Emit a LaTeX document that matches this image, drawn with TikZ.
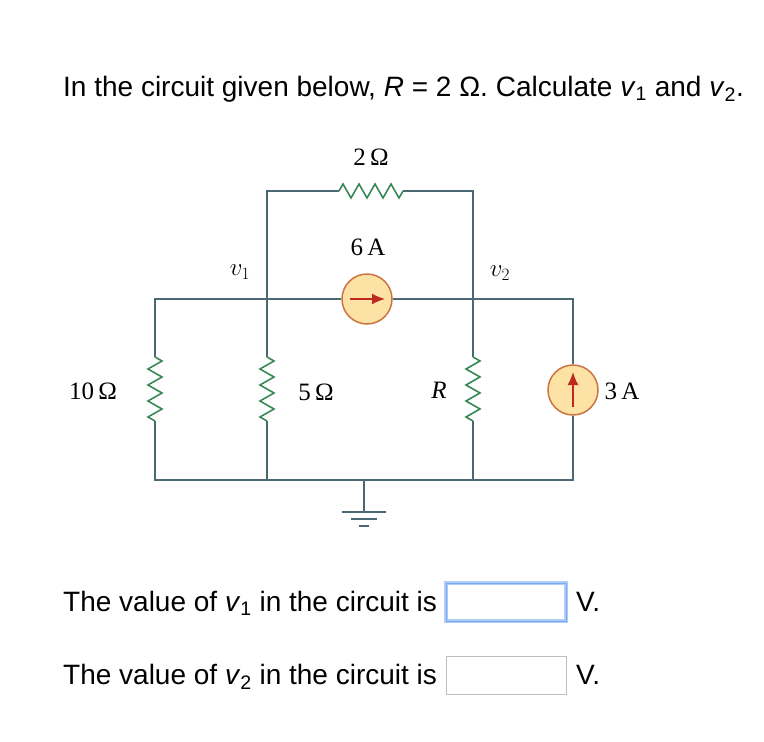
\documentclass[tikz,border=0pt]{standalone}
\usepackage{fontspec}
\setmainfont{Liberation Sans}
\newfontfamily\serf{Liberation Serif}
\usetikzlibrary{decorations.pathmorphing,calc,arrows.meta}
\definecolor{wire}{RGB}{75,105,115}
\definecolor{resg}{RGB}{55,135,85}
\definecolor{srcfill}{RGB}{253,226,165}
\definecolor{srcedge}{RGB}{205,115,65}
\definecolor{arr}{RGB}{190,40,30}
\definecolor{glow}{RGB}{120,170,240}
\begin{document}
\begin{tikzpicture}[x=1pt,y=-1pt,
  wirel/.style={draw=wire,line width=1.8pt},
  resist/.style={draw=resg,line width=1.6pt,decorate,decoration={zigzag,segment length=16pt,amplitude=7pt}},
  src/.style={circle,draw=srcedge,fill=srcfill,line width=1.5pt,minimum size=50pt,inner sep=0pt},
  lbl/.style={font=\serf\fontsize{25}{28}\selectfont,inner sep=0pt},
  txt/.style={font=\fontsize{28}{32}\selectfont,inner sep=0pt,anchor=base west},
  ansbox/.style={draw=black!25,line width=0.8pt,minimum width=120pt,minimum height=38pt,inner sep=0pt}]
\useasboundingbox (0,0) rectangle (764,742);
% corners
\coordinate (tl) at (267,191); \coordinate (tr) at (473,191);
\coordinate (ml) at (155,299); \coordinate (n1) at (267,299); \coordinate (n2) at (473,299); \coordinate (mr) at (573,299);
\coordinate (bl) at (155,480); \coordinate (b1) at (267,480); \coordinate (bg) at (364,480); \coordinate (b2) at (473,480); \coordinate (br) at (573,480);
\coordinate (r2a) at (339,191); \coordinate (r2b) at (403,191);
\coordinate (ra1) at (155,357); \coordinate (rb1) at (155,421);
\coordinate (ra2) at (267,357); \coordinate (rb2) at (267,421);
\coordinate (ra3) at (473,357); \coordinate (rb3) at (473,421);
\coordinate (gnd) at (364,512);
\coordinate (g2) at (364,519); \coordinate (g3) at (364,526);
\node[src] (s6) at (367,299) {};
\node[src] (s3) at (573,390) {};
% wires
\draw[wirel] (r2a) -- (tl) -- (n1);
\draw[wirel] (r2b) -- (tr) -- (n2);
\draw[wirel] (ra1) -- (ml) -- (n1) -- (s6.west);
\draw[wirel] (s6.east) -- (n2) -- (mr) -- (s3.north);
\draw[wirel] (n1) -- (ra2); \draw[wirel] (n2) -- (ra3);
\draw[wirel] (rb1) -- (bl) -- (br) -- (s3.south);
\draw[wirel] (rb2) -- (b1); \draw[wirel] (rb3) -- (b2);
\draw[wirel] (bg) -- (gnd);
\draw[wirel] (gnd) ++(-22,0) -- ++(44,0);
\draw[wirel] (g2) ++(-13,0) -- ++(26,0);
\draw[wirel] (g3) ++(-5,0) -- ++(10,0);
% resistors
\draw[resist] (r2a) -- (r2b);
\draw[resist] (ra1) -- (rb1);
\draw[resist] (ra2) -- (rb2);
\draw[resist] (ra3) -- (rb3);
% arrows in sources
\draw[draw=arr,line width=1.8pt,-{Latex[length=13pt,width=11pt]}] ($(s6.center)+(-17,0)$) -- ($(s6.center)+(18,0)$);
\draw[draw=arr,line width=1.8pt,-{Latex[length=13pt,width=11pt]}] ($(s3.center)+(0,17)$) -- ($(s3.center)+(0,-18)$);
% labels
\node[lbl] (l2) at (371,157) {2\,Ω};
\node[lbl] (l6) at (368,247) {6\,A};
\node[lbl] (lv1) at (240,272) {$v_1$};
\node[lbl] (lv2) at (500,273) {$v_2$};
\node[lbl] (l10) at (93,391) {10\,Ω};
\node[lbl] (l5) at (316,392) {5\,Ω};
\node[lbl] (lR) at (439,390) {\itshape R};
\node[lbl] (l3) at (622,391) {3\,A};
% text
\node[txt] (title) at (63,96) {In the circuit given below, \textit{R} = 2 Ω. Calculate \textit{v}\textsubscript{1} and \textit{v}\textsubscript{2}.};
\node[txt] (q1) at (63,611) {The value of \textit{v}\textsubscript{1} in the circuit is};
\node[txt] (q2) at (63,684) {The value of \textit{v}\textsubscript{2} in the circuit is};
\node[ansbox,draw=glow!60,line width=4pt] (a1g) at (506,602) {};
\node[ansbox,draw=glow,line width=1pt] (a1) at (506,602) {};
\node[ansbox] (a2) at (506,675) {};
\node[txt] (v1u) at (576,611) {V.};
\node[txt] (v2u) at (576,684) {V.};
\end{tikzpicture}
\end{document}
